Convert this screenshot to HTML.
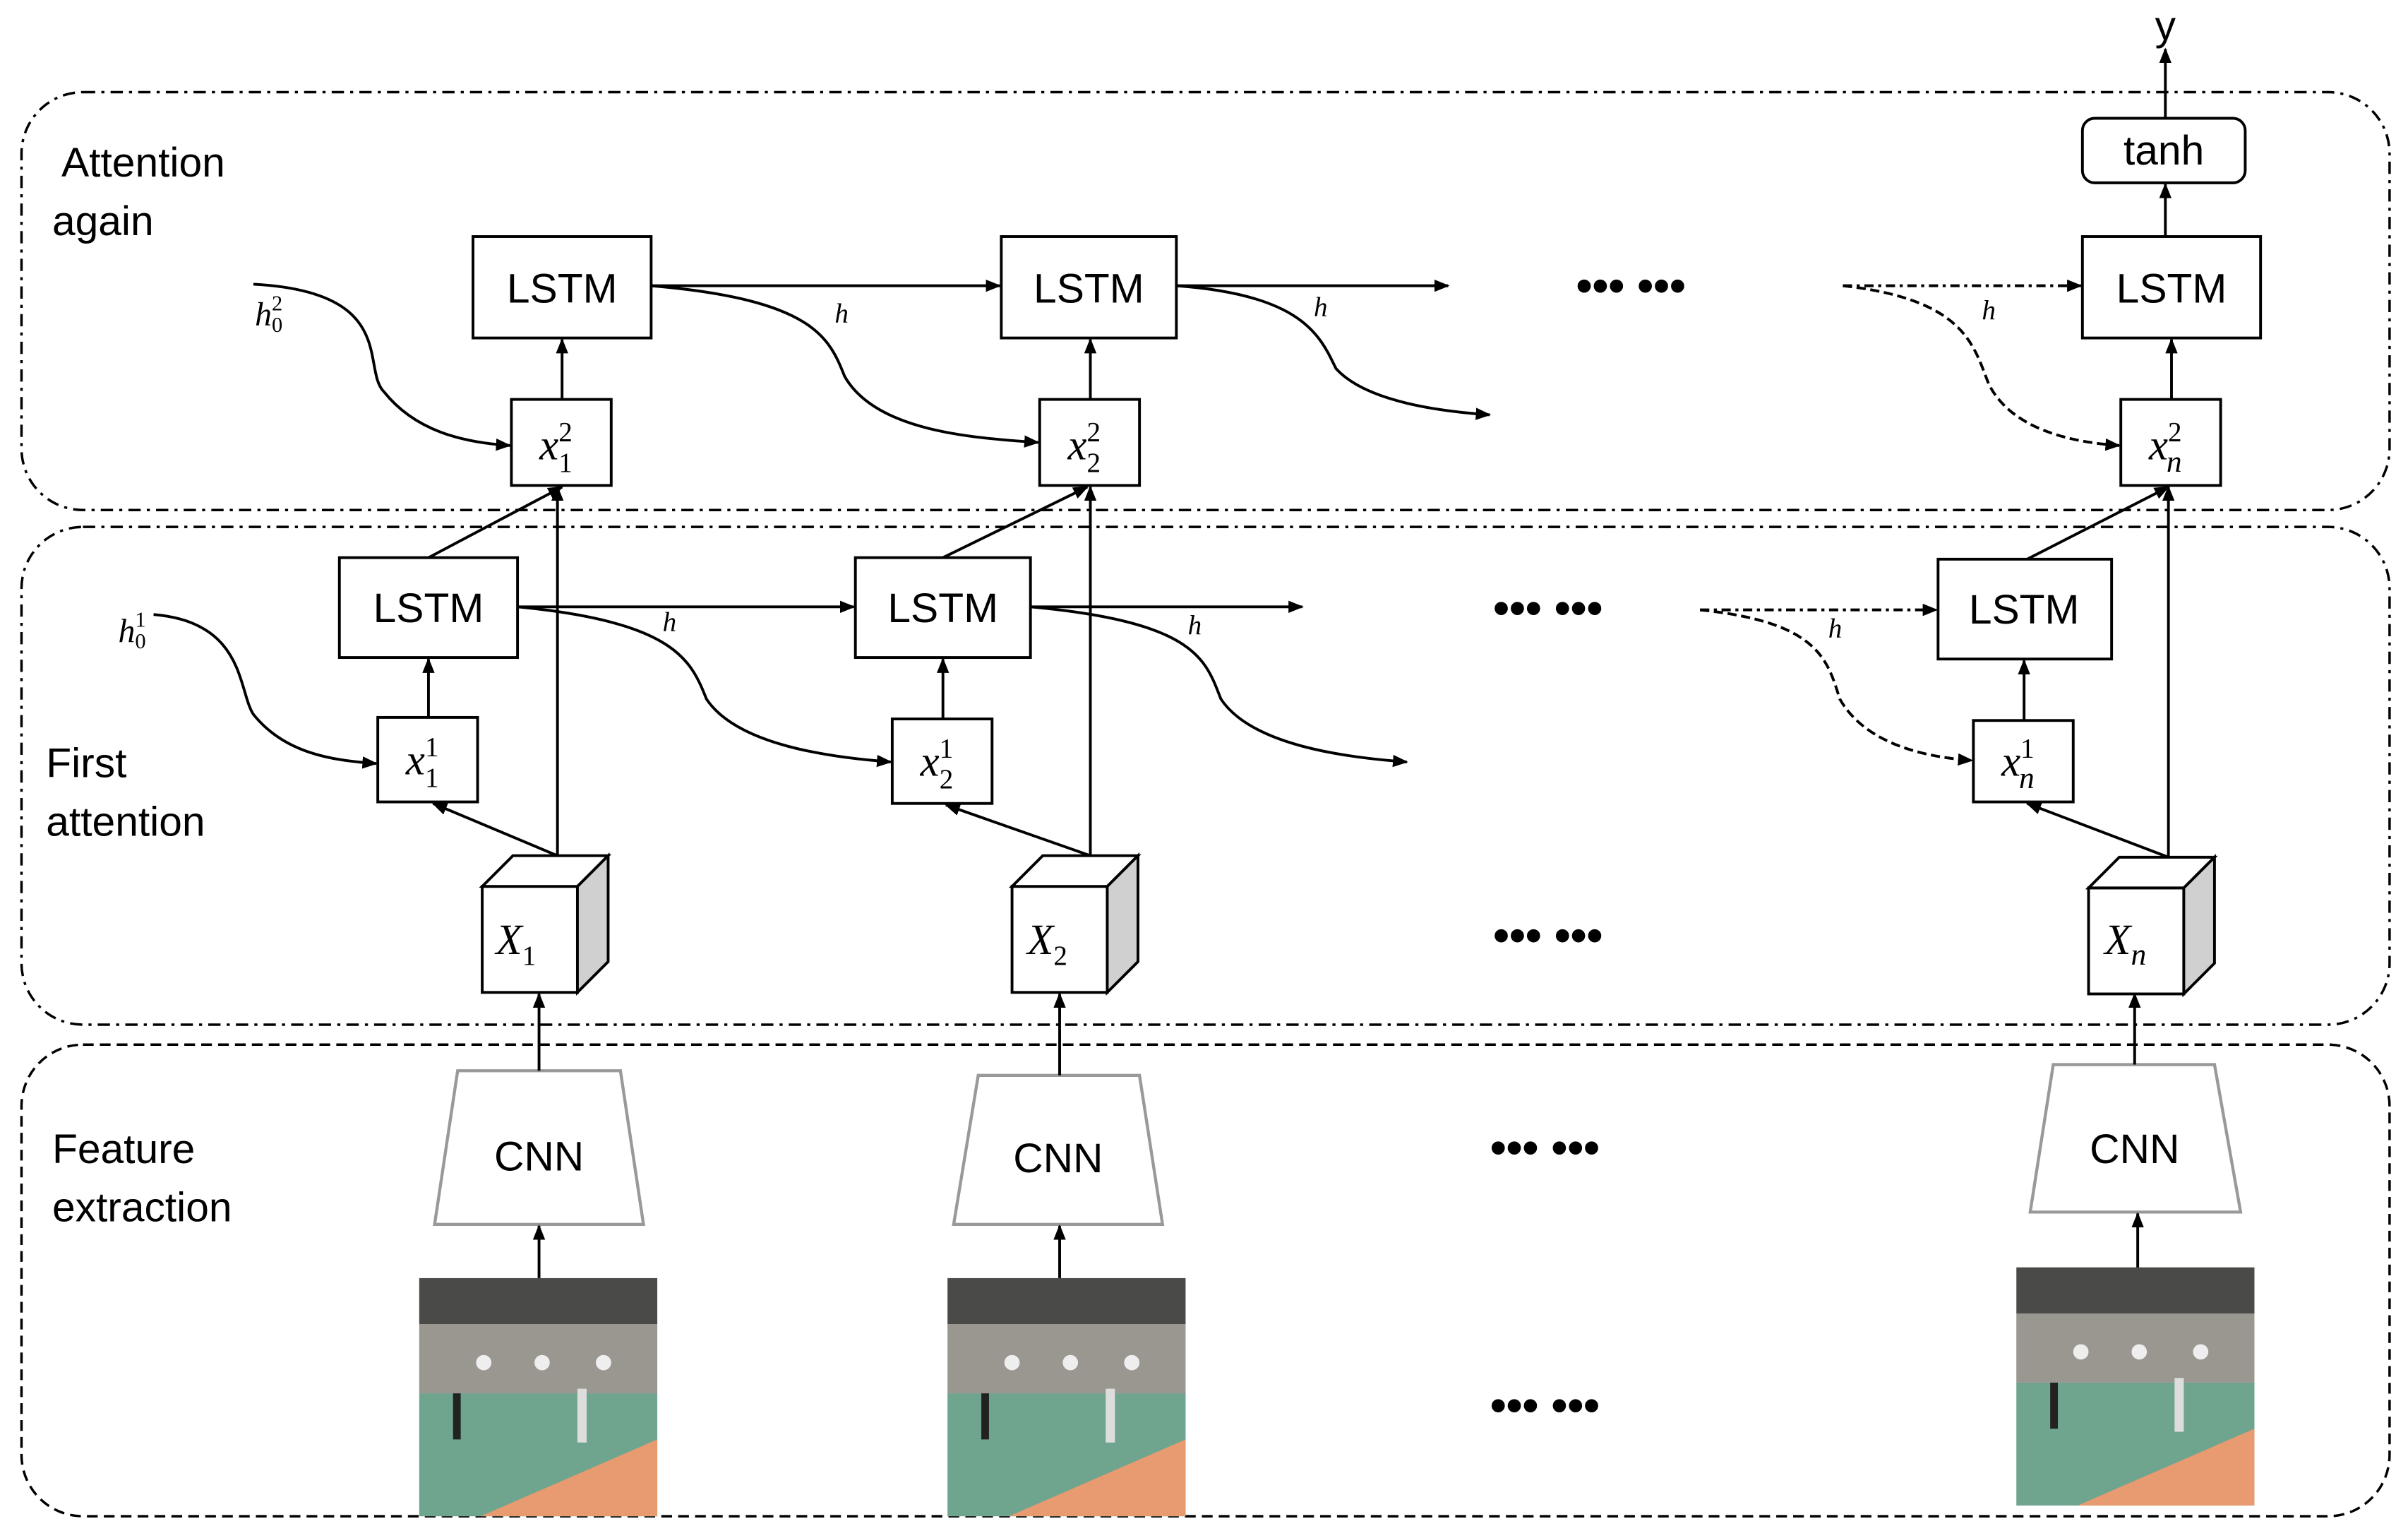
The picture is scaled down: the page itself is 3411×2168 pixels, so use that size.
<!DOCTYPE html>
<html><head><meta charset="utf-8"><style>html,body{margin:0;padding:0;background:#fff}svg{display:block}</style></head>
<body>
<svg width="3411" height="2168" viewBox="0 0 1568 996.6" xmlns="http://www.w3.org/2000/svg">
<defs>
<marker id="a" markerWidth="10" markerHeight="10" refX="9" refY="5" orient="auto" markerUnits="userSpaceOnUse"><path d="M0,1 L10,5 L0,9 z" fill="#000"/></marker>
<g id="img">
<rect x="0" y="0" width="155" height="155" fill="#c9cdd0"/>
<rect x="0" y="0" width="155" height="30" fill="#4a4a48"/>
<rect x="0" y="30" width="155" height="45" fill="#9a9690"/>
<rect x="0" y="75" width="155" height="80" fill="#6fa58f"/>
<polygon points="40,155 155,105 155,155" fill="#e89a70"/>
<circle cx="42" cy="55" r="5" fill="#eee"/><circle cx="80" cy="55" r="5" fill="#eee"/><circle cx="120" cy="55" r="5" fill="#eee"/>
<rect x="22" y="75" width="5" height="30" fill="#222"/><rect x="103" y="72" width="6" height="35" fill="#ddd"/>
</g>
<g id="cube" stroke="#000" stroke-width="1.8"><rect x="0" y="20" width="62" height="69" fill="#fff"/><polygon points="0,20 20,0 82,0 62,20" fill="#fff"/><polygon points="62,20 82,0 82,69 62,89" fill="#d0d0d0"/></g>
</defs>
<g fill="none" stroke="#000" stroke-width="1.6">
<rect x="14" y="60" width="1542" height="272" rx="40" stroke-dasharray="8,4,2,4"/>
<rect x="14" y="343" width="1542" height="324" rx="40" stroke-dasharray="8,4,2,4"/>
<rect x="14" y="680" width="1542" height="307" rx="40" stroke-dasharray="7,4"/>
</g>
<g font-family="Liberation Sans, sans-serif" font-size="27" fill="#000">
<text x="40" y="115">Attention</text><text x="34" y="153">again</text>
<text x="30" y="506">First</text><text x="30" y="544">attention</text>
<text x="34" y="757">Feature</text><text x="34" y="795">extraction</text>
</g>
<use href="#img" x="273" y="832"/><use href="#img" x="617" y="832"/><use href="#img" x="1313" y="825"/>
<g fill="#fff" stroke="#000" stroke-width="1.8">
<rect x="308" y="154" width="116" height="66"/><rect x="652" y="154" width="114" height="66"/><rect x="1356" y="154" width="116" height="66"/>
<rect x="1356" y="77" width="106" height="42" rx="8"/>
<rect x="333" y="260" width="65" height="56"/><rect x="677" y="260" width="65" height="56"/><rect x="1381" y="260" width="65" height="56"/>
<rect x="221" y="363" width="116" height="65"/><rect x="557" y="363" width="114" height="65"/><rect x="1262" y="364" width="113" height="65"/>
<rect x="246" y="467" width="65" height="55"/><rect x="581" y="468" width="65" height="55"/><rect x="1285" y="469" width="65" height="53"/>
</g>
<use href="#cube" x="314" y="557"/><use href="#cube" x="659" y="557"/><use href="#cube" x="1360" y="558"/>
<g fill="#fff" stroke="#999" stroke-width="2">
<polygon points="298,697 404,697 419,797 283,797"/><polygon points="637,700 742,700 757,797 621,797"/><polygon points="1337,693 1442,693 1459,789 1322,789"/>
</g>
<g font-family="Liberation Sans, sans-serif" font-size="27" text-anchor="middle">
<text x="366" y="197">LSTM</text><text x="709" y="197">LSTM</text><text x="1414" y="197">LSTM</text>
<text x="1409" y="107">tanh</text><text x="1410" y="26">y</text>
<text x="279" y="405">LSTM</text><text x="614" y="405">LSTM</text><text x="1318" y="406">LSTM</text>
<text x="351" y="762">CNN</text><text x="689" y="763">CNN</text><text x="1390" y="757">CNN</text>
</g>
<g font-family="Liberation Serif, serif" font-style="italic" font-size="28" text-anchor="middle">
<text x="362" y="299">x<tspan font-size="18" font-style="normal" dy="-12">2</tspan><tspan font-size="18" font-style="normal" dx="-9" dy="20">1</tspan></text>
<text x="706" y="299">x<tspan font-size="18" font-style="normal" dy="-12">2</tspan><tspan font-size="18" font-style="normal" dx="-9" dy="20">2</tspan></text>
<text x="1410" y="299">x<tspan font-size="18" font-style="normal" dy="-12">2</tspan><tspan font-size="20" dx="-10" dy="20">n</tspan></text>
<text x="275" y="504">x<tspan font-size="18" font-style="normal" dy="-12">1</tspan><tspan font-size="18" font-style="normal" dx="-9" dy="20">1</tspan></text>
<text x="610" y="505">x<tspan font-size="18" font-style="normal" dy="-12">1</tspan><tspan font-size="18" font-style="normal" dx="-9" dy="20">2</tspan></text>
<text x="1314" y="505">x<tspan font-size="18" font-style="normal" dy="-12">1</tspan><tspan font-size="20" dx="-10" dy="20">n</tspan></text>
<text x="336" y="621">X<tspan font-size="18" font-style="normal" dy="7">1</tspan></text>
<text x="682" y="621">X<tspan font-size="18" font-style="normal" dy="7">2</tspan></text>
<text x="1384" y="621">X<tspan font-size="20" dy="7">n</tspan></text>
<g font-size="18"><text x="548" y="210">h</text><text x="860" y="206">h</text><text x="1295" y="208">h</text><text x="436" y="411">h</text><text x="778" y="413">h</text><text x="1195" y="415">h</text></g>
<text x="175" y="212" font-size="22">h<tspan font-size="14" font-style="normal" dy="-10">2</tspan><tspan font-size="14" font-style="normal" dx="-7" dy="14">0</tspan></text>
<text x="86" y="418" font-size="22">h<tspan font-size="14" font-style="normal" dy="-10">1</tspan><tspan font-size="14" font-style="normal" dx="-7" dy="14">0</tspan></text>
</g>
<g font-family="Liberation Sans, sans-serif" font-size="30" font-weight="bold" text-anchor="middle">
<text x="1062" y="196">••• •••</text><text x="1008" y="406">••• •••</text><text x="1008" y="619">••• •••</text><text x="1006" y="757">••• •••</text><text x="1006" y="925">••• •••</text>
</g>
<g fill="none" stroke="#000" stroke-width="1.8" marker-end="url(#a)">
<path d="M351,832 V798"/><path d="M690,832 V798"/><path d="M1392,825 V790"/>
<path d="M351,697 V647"/><path d="M690,700 V647"/><path d="M1390,693 V647"/>
<path d="M363,557 L282,523"/><path d="M710,557 L616,524"/><path d="M1412,558 L1320,523"/>
<path d="M363,557 V317"/><path d="M710,557 V317"/><path d="M1412,558 V317"/>
<path d="M279,467 V429"/><path d="M614,468 V429"/><path d="M1318,469 V430"/>
<path d="M279,363 L366,317"/><path d="M614,363 L708,317"/><path d="M1320,364 L1412,317"/>
<path d="M366,260 V221"/><path d="M710,260 V221"/><path d="M1414,260 V221"/>
<path d="M1410,154 V120"/><path d="M1410,77 V32"/>
<path d="M424,186 H651"/><path d="M766,186 H943"/><path d="M1200,186 H1355" stroke-dasharray="6,3,2,3"/>
<path d="M337,395 H556"/><path d="M671,395 H848"/><path d="M1107,397 H1261" stroke-dasharray="6,3,2,3"/>
<path d="M165,185 C260,190 235,240 250,255 C270,280 300,288 332,290"/>
<path d="M424,186 C530,195 540,220 550,245 C570,280 630,285 676,288"/>
<path d="M766,186 C850,192 860,220 870,240 C890,262 940,268 970,270"/>
<path d="M1200,186 C1280,195 1285,225 1295,250 C1310,280 1350,288 1380,290" stroke-dasharray="6,3"/>
<path d="M100,400 C160,405 155,450 165,465 C185,490 215,495 245,497"/>
<path d="M337,395 C440,405 450,430 460,455 C480,485 540,493 580,496"/>
<path d="M671,395 C780,405 785,430 795,455 C815,485 875,493 916,496"/>
<path d="M1107,397 C1185,405 1190,430 1198,455 C1215,485 1255,493 1284,495" stroke-dasharray="6,3"/>
</g>
</svg>
</body></html>
